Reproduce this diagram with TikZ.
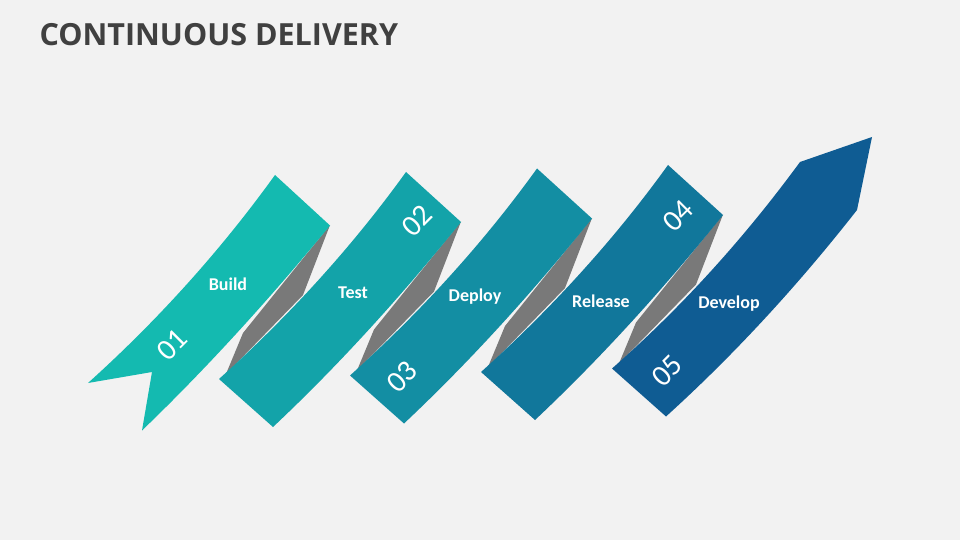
\documentclass[tikz,border=0pt]{standalone}
\usepackage{fontspec}
\setmainfont{Carlito}
\newfontfamily\titlefont{Open Sans}
\begin{document}
\begin{tikzpicture}[x=1pt,y=-1pt,
  lbl/.style={text=white,font=\bfseries\fontsize{18}{18}\selectfont},
  num/.style={text=white,font=\fontsize{30}{30}\selectfont,rotate=45,inner sep=0pt},
  fold/.style={fill=gray!95!black}]
\useasboundingbox (0,0) rectangle (960,540);
\fill[black!5] (0,0) rectangle (960,540);
\node[anchor=west,text=black!75,font=\titlefont\bfseries\fontsize{30.5}{30.5}\selectfont] (title) at (36,35) {CONTINUOUS DELIVERY};
% folds
\foreach \i in {0,1,2,3}{
  \fill[fold,shift={(131*\i,-3.5*\i)}] (330,225) -- (303,295) -- (226,374) -- (243,333) -- cycle;
}
\definecolor{c1}{RGB}{20,186,176}
\definecolor{c2}{RGB}{19,163,169}
\definecolor{c3}{RGB}{19,142,163}
\definecolor{c4}{RGB}{17,119,155}
\definecolor{c5}{RGB}{15,92,147}
% ribbon 1
\fill[c1] (88,383) .. controls (158,320) and (221,250) .. (275,175) -- (330,225.5) .. controls (272,296) and (210,365) .. (142,430.5) -- (152,372) -- cycle;
% ribbons 2-4
\foreach \i/\c in {0/c2,1/c3,2/c4}{
  \fill[\c,shift={(131*\i,-3.5*\i)}] (219,379) .. controls (289,316) and (352,247) .. (406,172) -- (461,222) .. controls (403,294) and (341,363) .. (273,427) -- cycle;
}
% ribbon 5 arrow
\fill[c5] (612,368.5) .. controls (683,306) and (745,237) .. (800,162) -- (872,137) -- (857,210) .. controls (799,284) and (736,353) .. (666,416.5) -- cycle;
% labels
\node[lbl] (l1) at (228,284) {Build};
\node[lbl] (l2) at (353,293) {Test};
\node[lbl] (l3) at (475,297) {Deploy};
\node[lbl] (l4) at (601,301) {Release};
\node[lbl] (l5) at (729,304) {Develop};
\node[num] (n1) at (172,345) {01};
\node[num] (n2) at (417,221) {02};
\node[num] (n3) at (402,377) {03};
\node[num] (n4) at (678,216) {04};
\node[num] (n5) at (667,371) {05};
\end{tikzpicture}
\end{document}
